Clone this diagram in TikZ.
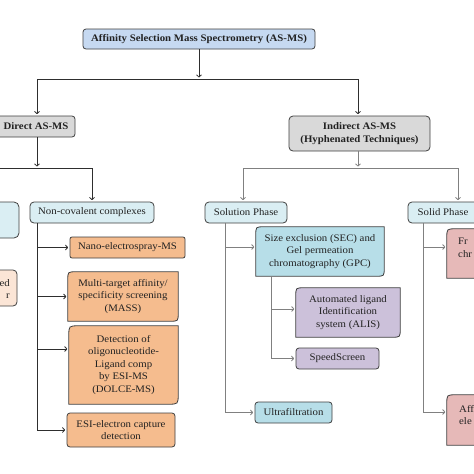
\documentclass[tikz,border=0pt]{standalone}
\usepackage{fontspec}
\setmainfont{Liberation Serif}[FakeStretch=1.08]
\usetikzlibrary{arrows.meta,calc,backgrounds}
\definecolor{bord}{HTML}{3F3F3F}
\definecolor{lnd}{HTML}{2E2E2E}
\definecolor{lng}{HTML}{808080}
\definecolor{topc}{HTML}{C6D9F1}
\definecolor{grayc}{HTML}{D9D9D9}
\definecolor{lblue}{HTML}{DAEEF3}
\definecolor{mblue}{HTML}{B7DEE8}
\definecolor{orng}{HTML}{F5BC8E}
\definecolor{purp}{HTML}{CCC1DA}
\definecolor{pinkc}{HTML}{E6B9B8}
\definecolor{peach}{HTML}{FBE5D6}
\definecolor{txt}{HTML}{222222}
\newcommand\diagbg[3]{%
\begin{pgfonlayer}{background}
\filldraw[fill=#3,draw=bord,line width=0.8pt]
 ($(#1.north west)+(#2,0)$) -- (#1.north east) -- ($(#1.south east)+(0,#2)$)
 .. controls (#1.south east) .. ($(#1.south east)+(-#2,0)$) -- (#1.south west)
 -- ($(#1.north west)+(0,-#2)$) .. controls (#1.north west) .. ($(#1.north west)+(#2,0)$) -- cycle;
\end{pgfonlayer}}
\begin{document}
\begin{tikzpicture}[x=1pt,y=-1pt,
 every node/.style={inner sep=0pt, align=center, font=\fontsize{10}{12.5}\selectfont, text=txt},
 box/.style={draw=bord, line width=0.8pt, rounded corners=3pt},
 dline/.style={draw=lnd, line width=0.8pt},
 gline/.style={draw=lng, line width=0.8pt},
 arr/.style={-{To[length=3pt,width=5.5pt]}, shorten >=1.5pt},
 hd/.style={font=\fontsize{10}{12.5}\selectfont\bfseries}]
\useasboundingbox (0,0) rectangle (474,474);
% top level
\node[box,hd,fill=topc,minimum width=232pt,minimum height=20pt] (top) at (199,39) {Affinity Selection Mass Spectrometry (AS-MS)};
\node[box,hd,fill=grayc,minimum width=78pt,minimum height=21pt] (dir) at (36,126.5) {Direct AS-MS};
\node[box,hd,fill=grayc,minimum width=141pt,minimum height=35pt,rounded corners=4pt] (ind) at (359.5,133.5) {Indirect AS-MS\\(Hyphenated Techniques)};
\coordinate (jl) at (37,79);
\coordinate (jr) at (358,79);
\coordinate (jm) at (top.south |- jl);
\draw[dline,arr] (top.south) -- (jm);
\draw[dline] (jl) -- (jr);
\draw[dline,arr] (jl) -- (jl |- dir.north);
\draw[dline,arr] (jr) -- (jr |- ind.north);
% direct subtree
\node[box,fill=lblue,minimum width=80pt,minimum height=36pt,rounded corners=5pt] (lu) at (-21,220) {};
\node[box,fill=peach,minimum width=80pt,minimum height=36pt,rounded corners=4pt] (ll) at (-23,288) {};
\node[anchor=east,align=right] (llt) at (10,289) {ed\\r};
\node[box,fill=lblue,minimum width=124pt,minimum height=21pt,rounded corners=4pt] (ncv) at (92,212.5) {Non-covalent complexes};
\coordinate (dj) at (37,168);
\coordinate (dl) at (-21,168);
\coordinate (dr) at (92,168);
\draw[dline,arr] (dj |- dir.south) -- (dj);
\draw[dline] (dl) -- (dr);
\draw[dline,arr] (dr) -- (dr |- ncv.north);
\draw[dline,arr] (dl) -- (dl |- lu.north);
\node[box,fill=orng,minimum width=115pt,minimum height=21pt,rounded corners=2pt] (nano) at (127.5,247.5) {Nano-electrospray-MS};
\node[minimum width=110pt,minimum height=49pt] (mass) at (123,296.5) {Multi-target affinity/\\specificity screening\\(MASS)};
\diagbg{mass}{8pt}{orng}
\node[minimum width=109pt,minimum height=78pt] (dolce) at (123.5,365) {Detection of\\oligonucleotide-\\Ligand comp\\by ESI-MS\\(DOLCE-MS)};
\diagbg{dolce}{10pt}{orng}
\node[box,fill=orng,minimum width=108pt,minimum height=34pt,rounded corners=3pt] (esi) at (121,430) {ESI-electron capture\\detection};
\coordinate (nv) at ($(ncv.south west)+(7.5pt,0)$);
\draw[dline,arr] (nv) |- (nano.west);
\draw[dline,arr] (nv) |- (mass.west);
\draw[dline,arr] (nv) |- ($(dolce.west)+(0,16pt)$);
\draw[dline,arr] (nv) |- (esi.west);
% indirect subtree
\node[box,fill=lblue,minimum width=82pt,minimum height=21pt,rounded corners=4pt] (sol) at (246,212.5) {Solution Phase};
\node[box,fill=lblue,minimum width=70pt,minimum height=21pt,rounded corners=4pt] (sld) at (443,212.5) {Solid Phase};
\coordinate (ij) at (358,168);
\coordinate (il) at (243,168);
\coordinate (ir) at (458,168);
\draw[gline,arr] (ij |- ind.south) -- (ij);
\draw[gline] (il) -- (ir);
\draw[gline,arr] (il) -- (il |- sol.north);
\draw[gline,arr] (ir) -- (ir |- sld.north);
\node[minimum width=128pt,minimum height=49pt] (sec) at (320,251.5) {Size exclusion (SEC) and\\Gel permeation\\chromatography (GPC)};
\diagbg{sec}{8pt}{mblue}
\node[box,fill=mblue,minimum width=77pt,minimum height=21pt] (ultra) at (293.5,412.5) {Ultrafiltration};
\coordinate (sv) at ($(sol.south west)+(21pt,0)$);
\draw[gline,arr] (sv) |- ($(sec.west)+(0,4.5pt)$);
\draw[gline,arr] (sv) |- (ultra.west);
\node[minimum width=104pt,minimum height=49pt] (alis) at (348,312.5) {Automated ligand\\Identification\\system (ALIS)};
\diagbg{alis}{8pt}{purp}
\node[box,fill=purp,minimum width=83pt,minimum height=21pt] (speed) at (337.5,358.5) {SpeedScreen};
\coordinate (secv) at ($(sec.south west)+(16pt,0)$);
\draw[gline,arr] (secv) |- ($(alis.west)+(0,3.5pt)$);
\draw[gline,arr] (secv) |- (speed.west);
\node[minimum width=80pt,minimum height=49pt] (fr) at (487,253.5) {};
\diagbg{fr}{9pt}{pinkc}
\node[anchor=west,align=left] (frt) at (458,248) {Fr\\chr};
\node[minimum width=80pt,minimum height=50pt] (aff) at (487,420) {};
\diagbg{aff}{9pt}{pinkc}
\node[anchor=west,align=left] (afft) at (459,415) {Aff\\ele};
\coordinate (sdv) at ($(sld.south west)+(16pt,0)$);
\draw[gline,arr] (sdv) |- ($(fr.west)+(0,6.5pt)$);
\draw[gline,arr] (sdv) |- ($(aff.west)+(0,8pt)$);
\end{tikzpicture}
\end{document}
